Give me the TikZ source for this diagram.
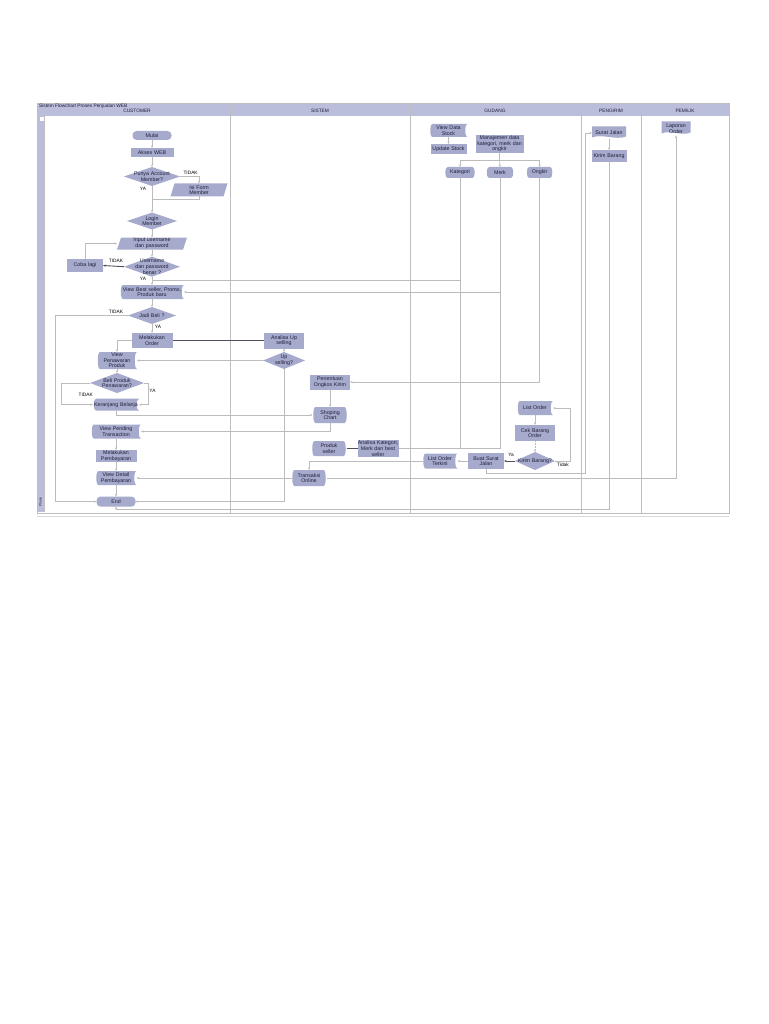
\documentclass[tikz,border=0pt]{standalone}
\usepackage{fontspec}
\setmainfont{Liberation Sans}
\usetikzlibrary{arrows.meta,calc}
\definecolor{boxc}{RGB}{166,170,204}
\definecolor{hdrc}{RGB}{186,190,218}
\definecolor{lnc}{RGB}{188,188,188}
\definecolor{dkc}{RGB}{80,80,90}
\definecolor{txc}{RGB}{30,30,55}
\definecolor{sepc}{RGB}{190,190,190}
\newcommand\fsz{\fontsize{5.3}{5.6}\selectfont}
\newcommand\lsz{\fontsize{4.8}{5}\selectfont}
\pgfdeclarelayer{bg}
\pgfsetlayers{bg,main}
\begin{document}
\begin{tikzpicture}[x=1pt,y=-1pt,
  base/.style={inner sep=0pt, outer sep=0pt, font=\fsz, align=center, text=txc},
  sz/.style 2 args={minimum width=#1pt, minimum height=#2pt, text width=#1pt},
  proc/.style={base, fill=boxc},
  term/.style={base, fill=boxc, rounded corners=4pt},
  dia/.style={base, path picture={\fill[boxc] let \p1=(path picture bounding box.south west), \p2=(path picture bounding box.north east) in ({0.5*\x1+0.5*\x2},\y1) -- (\x2,{0.5*\y1+0.5*\y2}) -- ({0.5*\x1+0.5*\x2},\y2) -- (\x1,{0.5*\y1+0.5*\y2}) -- cycle;}},
  para/.style={base, path picture={\fill[boxc] let \p1=(path picture bounding box.south west), \p2=(path picture bounding box.north east) in (\x1,\y1) -- ({\x2-4pt},\y1) -- (\x2,\y2) -- ({\x1+4pt},\y2) -- cycle;}},
  store/.style={base, path picture={\fill[boxc] let \p1=(path picture bounding box.south west), \p2=(path picture bounding box.north east) in ({\x1+3pt},\y1) .. controls (\x1,\y1) and (\x1,\y2) .. ({\x1+3pt},\y2) -- (\x2,\y2) .. controls ({\x2-3pt},\y2) and ({\x2-3pt},\y1) .. (\x2,\y1) -- cycle;}},
  cyl/.style={base, path picture={\fill[boxc] let \p1=(path picture bounding box.south west), \p2=(path picture bounding box.north east) in ({\x1+3pt},\y1) .. controls (\x1,\y1) and (\x1,\y2) .. ({\x1+3pt},\y2) -- ({\x2-3pt},\y2) .. controls (\x2,\y2) and (\x2,\y1) .. ({\x2-3pt},\y1) -- cycle;}},
  doc/.style={base, path picture={\fill[boxc] let \p1=(path picture bounding box.south west), \p2=(path picture bounding box.north east) in (\x1,\y2) -- (\x2,\y2) -- (\x2,{\y1+3pt}) .. controls ({0.7*\x2+0.3*\x1},{\y1-1pt}) and ({0.3*\x2+0.7*\x1},{\y1+6pt}) .. (\x1,{\y1+2pt}) -- cycle;}},
  ln/.style={draw=lnc, line width=0.6pt},
  arr/.style={ln, -{Stealth[length=2.6pt,width=2.2pt]}},
  dk/.style={draw=dkc, line width=0.9pt},
  lab/.style={font=\lsz, text=black, inner sep=0pt},
  hdr/.style={font=\fontsize{4.8}{5}\selectfont, text=txc, inner sep=0pt}
]
\useasboundingbox (0,0) rectangle (768,1024);

% ---------- CUSTOMER ----------
\node[term,sz={39}{9}] (mulai) at (152,135.5) {Mulai};
\node[proc,sz={43}{9}] (akses) at (152,152.5) {Akses WEB};
\node[dia,sz={56}{19}] (punya) at (152,176.5) {Punya Account\\Member?};
\node[para,sz={57}{13}] (isi) at (199,190) {Isi Form\\Member};
\node[dia,sz={50}{17}] (login) at (152,221) {Login\\Member};
\node[para,sz={70}{12}] (input) at (152,243.5) {Input username\\dan password};
\node[proc,sz={36}{13}] (coba) at (85,265.5) {Coba lagi};
\node[dia,sz={56}{20}] (benar) at (152,266.7) {Username\\dan password\\benar ?};
\node[store,sz={64}{14}] (view) at (152,292) {View Best seller, Promo,\\Produk baru};
\node[dia,sz={48}{17}] (jadi) at (152,315.5) {Jadi Beli ?};
\node[proc,sz={41}{15}] (order) at (152,340.5) {Melakukan\\Order};
\node[store,sz={40}{17}] (penawaran) at (117,360.5) {View\\Penawaran\\Produk};
\node[dia,sz={54}{20}] (beli) at (117,383) {Beli Produk\\Penawaran?};
\node[store,sz={46}{12}] (keranjang) at (116,404.7) {Keranjang Belanja};
\node[store,sz={50}{14}] (pending) at (116,431.5) {View Pending\\Transaction};
\node[proc,sz={41}{12}] (bayar) at (116,456) {Melakukan\\Pembayaran};
\node[store,sz={41}{14}] (detail) at (116,478) {View Detail\\Pembayaran};
\node[term,sz={39}{10}] (end) at (116,501.6) {End};

% ---------- SISTEM ----------
\node[proc,sz={40}{16}] (upsell) at (284,340.5) {Analisa Up\\selling};
\node[dia,sz={42}{17}] (upq) at (284,360.5) {Up\\selling?};
\node[proc,sz={40}{15}] (ongkos) at (330,382) {Penentuan\\Ongkos Kirim};
\node[cyl,sz={35}{16}] (chart) at (330,415) {Shoping\\Chart};
\node[cyl,sz={35}{15}] (produk) at (329,448.6) {Produk\\seller};
\node[proc,sz={41}{17}] (analisa) at (378,448.6) {Analisa Kategori,\\Merk dan best\\seller};
\node[cyl,sz={35}{16}] (transaksi) at (309,478) {Transaksi\\Online};

% ---------- GUDANG ----------
\node[store,sz={38}{13}] (stock) at (448.5,130.5) {View Data\\Stock};
\node[proc,sz={36}{10}] (update) at (448.5,149) {Update Stock};
\node[proc,sz={48}{18}] (manaj) at (499.5,144) {Manajemen data\\kategori, merk dan\\ongkir};
\node[cyl,sz={31}{11}] (kategori) at (460,172.5) {Kategori};
\node[cyl,sz={28}{11}] (merk) at (500,172.5) {Merk};
\node[cyl,sz={27}{11}] (ongkir) at (539.6,172.5) {Ongkir};
\node[store,sz={36}{14}] (listorder) at (535,408) {List Order};
\node[proc,sz={40}{16}] (cek) at (535,433) {Cek Barang\\Order};
\node[dia,sz={40}{18}] (kirimq) at (535,461) {Kirim Barang?};
\node[proc,sz={36}{16}] (surat) at (486,461) {Buat Surat\\Jalan};
\node[store,sz={35}{15}] (terkini) at (440,461) {List Order\\Terkini};

% ---------- PENGIRIM / PEMILIK ----------
\node[doc,sz={34}{13}] (suratjalan) at (609,133) {Surat Jalan};
\node[proc,sz={35}{12}] (kirim) at (609,156) {Kirim Barang};
\node[doc,sz={29}{14}] (laporan) at (676,128.5) {Laporan\\Order};

% ---------- header texts ----------
\node[hdr, anchor=west] (title) at (39,106.2) {Sistem Flowchart Proses Penjualan WEB};
\node[hdr] (hcust) at (137,111) {CUSTOMER};
\node[hdr] (hsis) at (320,111) {SISTEM};
\node[hdr] (hgud) at (495,111) {GUDANG};
\node[hdr] (hpeng) at (611,111) {PENGIRIM};
\node[hdr] (hpem) at (685,111) {PEMILIK};
\node[hdr, rotate=90, font=\fontsize{3.4}{4}\selectfont] (phase) at (40.5,502) {Phase};

% ---------- labels ----------
\node[lab] (l1) at (190.6,172.4) {TIDAK};
\node[lab] (l2) at (143,189) {YA};
\node[lab] (l3) at (116,261) {TIDAK};
\node[lab] (l4) at (143,279) {YA};
\node[lab] (l5) at (116,311.5) {TIDAK};
\node[lab] (l6) at (158,326.6) {YA};
\node[lab] (l7) at (85.7,395) {TIDAK};
\node[lab] (l8) at (152.5,391) {YA};
\node[lab] (l9) at (511,454.5) {Ya};
\node[lab] (l10) at (563,465) {Tidak};

\begin{pgfonlayer}{bg}
\fill[white] (0,0) rectangle (768,1024);
\fill[hdrc] (37,104) rectangle (729,116);
\fill[hdrc] (37,116) rectangle (44,512);
\fill[white] (39.5,117.5) rectangle (43.5,121.5);
\foreach \xx in {230,410,581,641} \draw[sepc, line width=0.7pt] (\xx,104) -- (\xx,513);
\draw[sepc, line width=0.7pt] (44,116) -- (44,512);
\draw[sepc, line width=0.8pt] (37,103.5) rectangle (729,513);
\draw[sepc!60, line width=0.6pt] (37,516) -- (729,516);

% connectors
\draw[arr] (mulai.south) -- (akses.north);
\draw[arr] (akses.south) -- (punya.north);
\draw[arr] (punya.east) -| (isi.north);
\draw[arr] (punya.south) -- (login.north);
\coordinate (j1) at (152,199.7);
\draw[ln] (isi.south) |- (j1);
\draw[arr] (login.south) -- (input.north);
\draw[arr] (input.south) -- (benar.north);
\draw[dk,-{Stealth[length=2.6pt,width=2.2pt]}] (benar.west) -- (coba.east);
\draw[arr] (coba.north) |- (input.west);
\draw[arr] (benar.south) -- (view.north);
\coordinate (j2) at (152,280);
\draw[ln] (kategori.south) |- (j2);
\draw[ln] (kategori.south) -- (kategori.south |- analisa.east);
\draw[ln] (analisa.east) -| (merk.south);
\draw[arr] (merk.south |- view.east) -- (view.east);
\draw[arr] (view.south) -- (jadi.north);
\draw[arr] (jadi.south) -- (order.north);
\coordinate (j3) at (55,315.5);
\draw[arr] (jadi.west) -- (j3) |- (end.west);
\draw[dk] (order.east) -- (upsell.west);
\draw[arr] (order.west) -| (penawaran.north);
\draw[arr] (upq.west) -- (penawaran.east);
\draw[arr] (upsell.south) -- (upq.north);
\draw[arr] (penawaran.south) -- (beli.north);
\coordinate (j4) at (61.7,383);
\draw[arr] (beli.west) -- (j4) |- (keranjang.west);
\coordinate (j5) at (148.5,383);
\draw[arr] (beli.east) -- (j5) |- (keranjang.east);
\draw[arr] (keranjang.south) |- (chart.west);
\draw[arr] (ongkos.south) -- (chart.north);
\draw[arr] (ongkir.south) |- (ongkos.east);
\draw[arr] (chart.south) |- (pending.east);
\draw[arr] (pending.south) -- (bayar.north);
\draw[arr] (bayar.south) -- (detail.north);
\draw[arr] (detail.south) -- (end.north);
\draw[arr] (upq.south) |- (end.east);
\draw[arr] (transaksi.west) -- (detail.east);
\draw[arr] (transaksi.east) -| (laporan.south);
\draw[arr] (terkini.west) -| (transaksi.north);
\draw[arr] (surat.west) -- (terkini.east);
\draw[dk,-{Stealth[length=2.6pt,width=2.2pt]}] (kirimq.west) -- (surat.east);
\coordinate (j6) at (570.7,461);
\draw[arr] (kirimq.east) -- (j6) |- (listorder.east);
\draw[arr] (listorder.south) -- (cek.north);
\draw[arr, densely dotted] (cek.south) -- (kirimq.north);
\coordinate (j7) at (585.5,473);
\draw[arr] (surat.south) |- (j7) |- (suratjalan.west);
\draw[arr] (suratjalan.south) -- (kirim.north);
\coordinate (j8) at (609,509.5);
\draw[arr] (kirim.south) -- (j8) -| (end.south);
\draw[arr] (stock.south) -- (update.north);
\coordinate (br) at (499.5,160.6);
\draw[ln] (manaj.south) -- (br);
\draw[arr] (br) -| (kategori.north);
\draw[arr] (br) -| (ongkir.north);
\draw[arr] (br) -- (merk.north);
\draw[dk] (produk.east) -- (analisa.west);
\end{pgfonlayer}
\end{tikzpicture}
\end{document}
